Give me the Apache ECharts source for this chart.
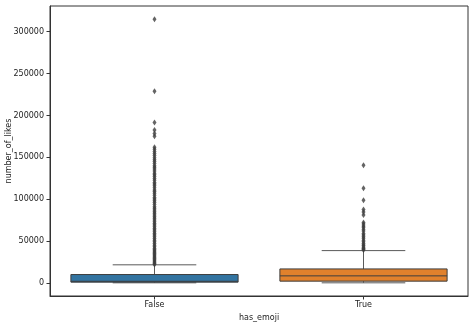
<!DOCTYPE html>
<html>
<head>
<meta charset="utf-8">
<script src="https://cdn.jsdelivr.net/npm/echarts@6/dist/echarts.min.js"></script>
<style>html,body{margin:0;padding:0;background:#fff}#c{width:474px;height:325px}</style>
</head>
<body>
<div id="c"></div>
<script>
const categories = ['False', 'True'];
// [lower whisker, Q1, median, Q3, upper whisker]
const statsFalse = [0, 800, 1800, 9900, 21500];
const statsTrue = [0, 2000, 8300, 16600, 38500];
const outliersFalse = [315000, 229000, 191500, 182500, 178500, 175000,
  162000, 159500, 157000, 154500, 152000, 149500, 147000, 145000, 142500, 140000,
  138000, 136000, 133500, 131000, 129000, 127000, 124500, 122500, 120000, 118000,
  116000, 113500, 111000, 109000, 107000, 104500, 102000, 100000, 98000, 96000,
  93500, 91000, 89000, 87000, 85000, 83000, 81000, 79000, 77000, 75000, 73000,
  71000, 69000, 67000, 65000, 63000, 61000, 59000, 57000, 55000, 53000, 51000,
  49000, 47000, 45000, 43000, 41000, 39500, 38000, 36500, 35000, 33500, 32000,
  30500, 29000, 27500, 26000, 24500, 23000, 22000];
const outliersTrue = [140500, 113000, 98800, 87700, 84500, 81000, 72000, 70200,
  68000, 66300, 64000, 61900, 59000, 57100, 55000, 53200, 51000, 49200, 47000,
  45200, 44000, 42000, 41000, 40000, 39300];
const yTicks = [0, 50000, 100000, 150000, 200000, 250000, 300000];

const boxColors = ['#3274a1', '#e1812c'];
const edge = '#3d3d3d';
const whisker = '#5a5a5a';

const boxData = [[0].concat(statsFalse), [1].concat(statsTrue)];
const scatterData = outliersFalse.map(v => [0, v]).concat(outliersTrue.map(v => [1, v]));

const chart = echarts.init(document.getElementById('c'), null, {renderer: 'canvas'});
const font = 'DejaVu Sans';
chart.setOption({
  animation: false,
  grid: {left: 50, right: 6, top: 6, bottom: 29, containLabel: false, outerBoundsMode: 'none',
    show: true, borderColor: '#333', borderWidth: 1},
  xAxis: {
    type: 'category', data: categories, boundaryGap: true,
    name: 'has_emoji', nameLocation: 'middle', nameGap: 18, nameMoveOverlap: false,
    nameTextStyle: {fontFamily: font, fontSize: 8, color: '#222'},
    axisLine: {show: true, onZero: false, lineStyle: {color: '#333', width: 1}},
    axisTick: {show: true, alignWithLabel: true, length: 3.5, lineStyle: {color: '#333'}},
    axisLabel: {fontFamily: font, fontSize: 8, color: '#222', margin: 5},
    splitLine: {show: false}
  },
  yAxis: {
    type: 'value', min: -15750, max: 330750,
    name: 'number_of_likes', nameLocation: 'middle', nameGap: 37, nameMoveOverlap: false,
    nameTextStyle: {fontFamily: font, fontSize: 8, color: '#222'},
    axisLine: {show: true, onZero: false, lineStyle: {color: '#333', width: 1}},
    axisTick: {show: true, length: 3.5, customValues: yTicks, lineStyle: {color: '#333'}},
    axisLabel: {fontFamily: font, fontSize: 8, color: '#222', margin: 6, customValues: yTicks,
      formatter: function (v) { return String(v); }},
    splitLine: {show: false}
  },
  series: [
    {
      type: 'custom',
      data: boxData,
      encode: {x: 0, y: [1, 2, 3, 4, 5]},
      z: 2,
      renderItem: function (params, api) {
        const idx = api.value(0);
        const mn = api.coord([idx, api.value(1)]);
        const q1 = api.coord([idx, api.value(2)]);
        const md = api.coord([idx, api.value(3)]);
        const q3 = api.coord([idx, api.value(4)]);
        const mx = api.coord([idx, api.value(5)]);
        const bw = api.size([1, 0])[0] * 0.8;
        const cx = mn[0];
        const ls = {stroke: whisker, lineWidth: 1};
        return {
          type: 'group',
          children: [
            {type: 'line', shape: {x1: cx, y1: q3[1], x2: cx, y2: mx[1]}, style: ls},
            {type: 'line', shape: {x1: cx, y1: q1[1], x2: cx, y2: mn[1]}, style: ls},
            {type: 'line', shape: {x1: cx - bw / 4, y1: mx[1], x2: cx + bw / 4, y2: mx[1]}, style: ls},
            {type: 'line', shape: {x1: cx - bw / 4, y1: mn[1], x2: cx + bw / 4, y2: mn[1]}, style: ls},
            {type: 'rect', shape: {x: cx - bw / 2, y: q3[1], width: bw, height: q1[1] - q3[1]},
              style: {fill: boxColors[idx], stroke: edge, lineWidth: 1}},
            {type: 'line', shape: {x1: cx - bw / 2, y1: md[1], x2: cx + bw / 2, y2: md[1]},
              style: {stroke: edge, lineWidth: 1}}
          ]
        };
      }
    },
    {
      type: 'scatter',
      data: scatterData,
      symbol: 'diamond',
      symbolSize: [4, 6],
      itemStyle: {color: '#3d3d3d'},
      z: 3
    }
  ]
});
</script>
</body>
</html>
